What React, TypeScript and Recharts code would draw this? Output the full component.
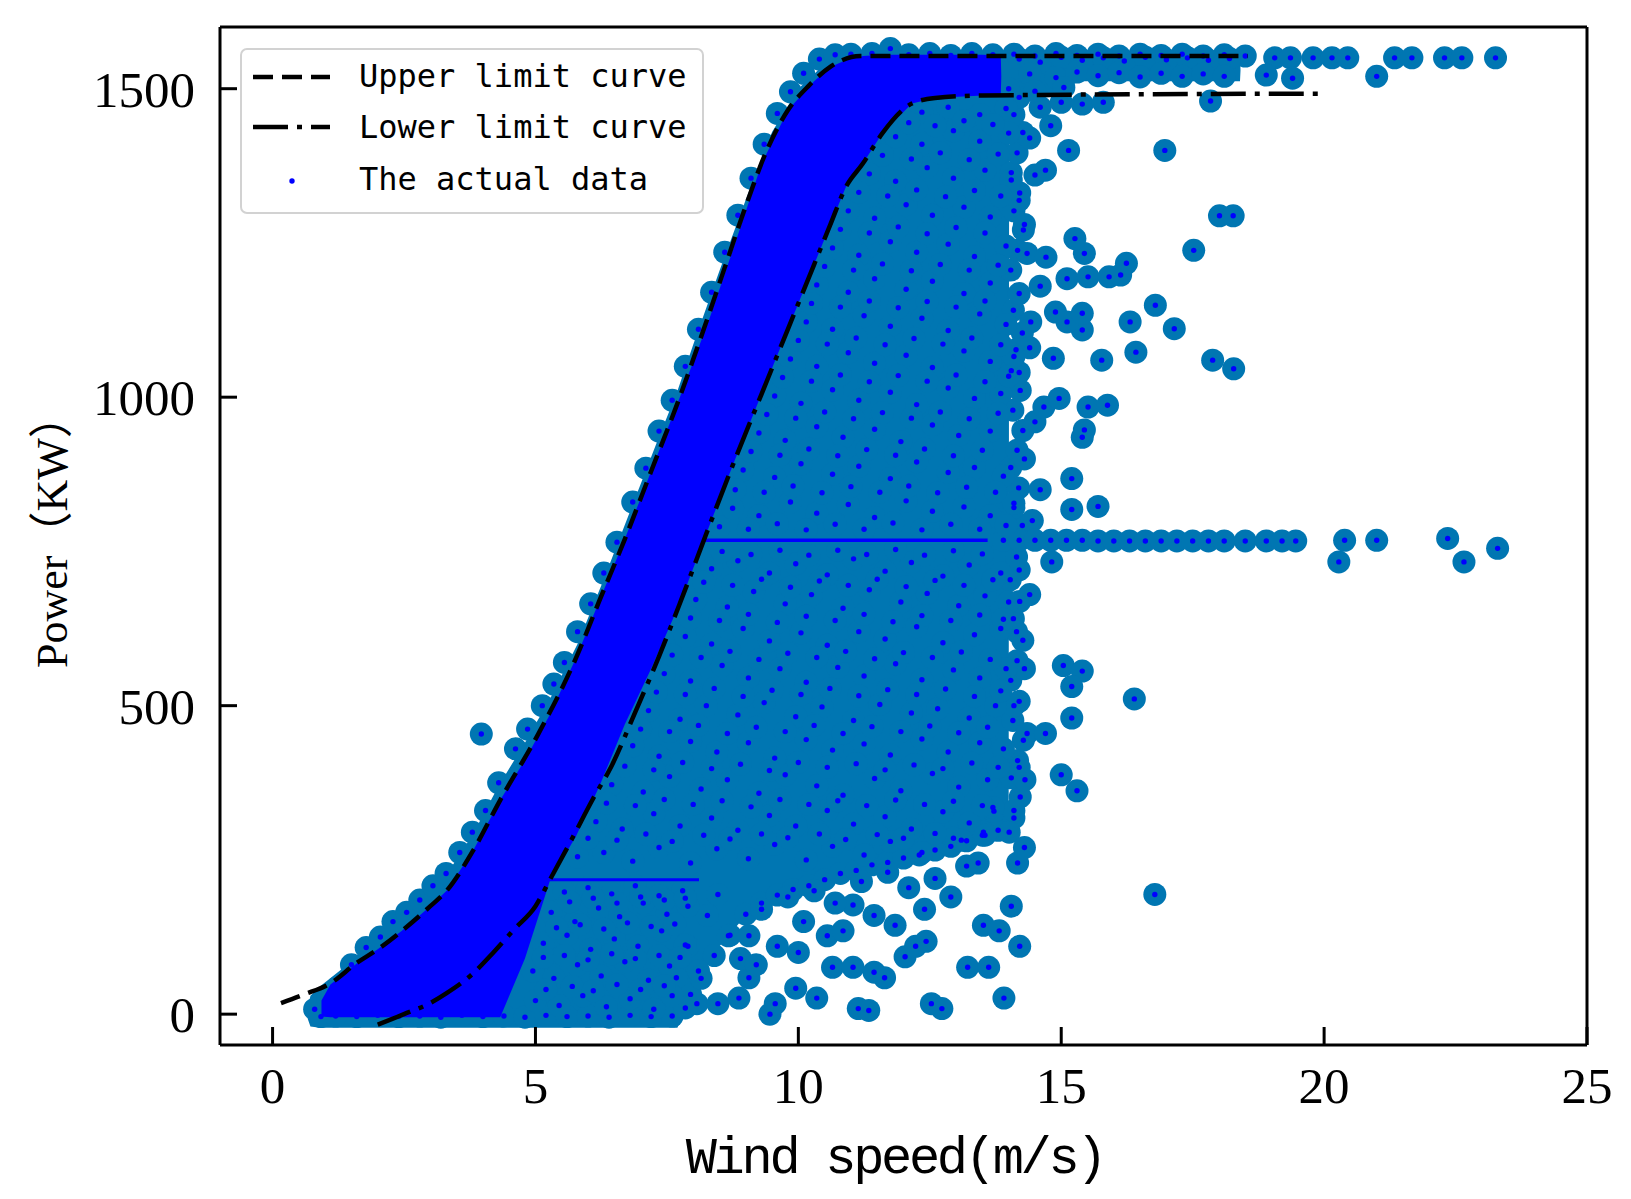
import React from 'react';
import { ComposedChart, XAxis, YAxis, Line, Area, Scatter, ReferenceLine, Legend, Label } from 'recharts';

const TEAL = '#0076b2';
const BLUE = '#0000ff';

const xTicks = [0, 5, 10, 15, 20, 25];
const yTicks = [0, 500, 1000, 1500];

// Upper limit curve (dashed): [wind speed, power]
const upperLimitCurve: number[][] = [
  [0.16, 18], [0.6, 32], [1.1, 50], [1.6, 83], [2.0, 105], [2.46, 135], [3.0, 175], [3.31, 200],
  [3.82, 266], [4.33, 347], [5.06, 455], [5.78, 579], [6.22, 671], [6.7, 770], [7.2, 880], [7.7, 990],
  [8.2, 1110], [8.6, 1210], [8.96, 1300], [9.4, 1400], [9.8, 1465], [10.2, 1505], [10.6, 1535],
  [11.18, 1553], [18.55, 1553],
];

// Lower limit curve (dash-dot)
const lowerLimitCurve: number[][] = [
  [2.0, -17], [2.5, 0], [3.0, 18], [3.31, 34], [3.8, 65], [4.2, 100], [4.6, 138], [5.0, 175], [5.27, 217],
  [5.7, 285], [6.1, 350], [6.44, 401], [6.9, 490], [7.35, 580], [7.77, 671], [8.3, 790], [8.8, 900],
  [9.3, 1005], [9.8, 1110], [10.3, 1215], [10.61, 1280], [10.9, 1340], [11.23, 1379], [11.6, 1428],
  [12.16, 1476], [12.6, 1485], [13.5, 1489], [19.9, 1492],
];

// Outline of the dense part of the data cloud (teal): x, lower edge, upper edge
const cloudX = [0.67, 0.72, 0.9, 1.3, 1.8, 2.3, 2.8, 3.3, 3.8, 4.3, 4.8, 5.3, 5.8, 6.3, 6.8, 7.3, 7.7, 8.0, 8.5, 9.0, 9.5, 10.0, 10.5, 11.0, 11.5, 12.2, 13.0, 13.7, 14.0, 14.01, 15.0, 15.3, 18.4, 18.41];
const cloudLow = [-8, -20, -22, -22, -22, -22, -22, -22, -22, -22, -22, -22, -22, -22, -22, -22, -22, 40, 110, 160, 190, 200, 215, 230, 240, 250, 270, 290, 305, 1480, 1488, 1512, 1512, 1530];
const cloudHigh = [8, 30, 45, 72, 110, 145, 180, 225, 290, 370, 440, 515, 600, 705, 815, 925, 1010, 1085, 1205, 1320, 1430, 1500, 1540, 1560, 1562, 1562, 1562, 1562, 1562, 1562, 1562, 1560, 1560, 1530];

// Saturated blue band where the actual data points pile up
const bandX = [0.93, 1.1, 1.6, 2.0, 2.46, 3.0, 3.31, 3.82, 4.33, 4.8, 5.27, 5.78, 6.22, 6.7, 7.2, 7.77, 8.3, 8.8, 9.3, 9.8, 10.3, 10.61, 10.9, 11.23, 11.6, 12.16, 12.6, 13.5, 13.85, 13.86];
const bandLow = [-4, -5, -5, -5, -5, -5, -5, -5, -5, 90, 215, 290, 370, 470, 560, 671, 790, 900, 1005, 1110, 1215, 1280, 1340, 1379, 1428, 1476, 1485, 1489, 1490, 1520];
const bandHigh = [22, 48, 82, 105, 135, 175, 200, 266, 347, 412, 485, 579, 671, 770, 880, 1005, 1125, 1250, 1378, 1465, 1512, 1535, 1546, 1553, 1555, 1555, 1555, 1555, 1554, 1520];

// Dense horizontal rows of data
const row770: number[][] = [[8.21, 768], [13.6, 768]];
const row222: number[][] = [[5.27, 218], [8.11, 218]];

// Individual data points
const edgePoints: number[][] = [
  [0.8, 8], [0.92, -4], [1.05, 25], [1.26, 45], [1.5, 80], [1.78, 108], [2.05, 125], [2.29, 150], [2.55, 165],
  [2.8, 185], [3.05, 208], [3.3, 228], [3.56, 262], [3.8, 295], [3.97, 454], [4.05, 330], [4.3, 375], [4.62, 430],
  [4.85, 462], [5.13, 500], [5.35, 535], [5.55, 570], [5.8, 620], [6.05, 665], [6.3, 715], [6.55, 765], [6.85, 830],
  [7.1, 885], [7.35, 945], [7.6, 995], [7.85, 1050], [8.1, 1110], [8.35, 1170], [8.6, 1235], [8.85, 1295],
  [9.1, 1355], [9.35, 1410], [9.6, 1460], [9.85, 1495], [10.1, 1525], [10.4, 1548], [10.7, 1555], [11.0, 1556],
  [11.4, 1557], [11.75, 1565], [12.1, 1555], [12.5, 1557], [12.9, 1554], [13.3, 1557], [13.7, 1555], [14.1, 1556],
  [14.5, 1553], [14.9, 1557], [15.3, 1554], [15.7, 1556], [16.1, 1553], [16.5, 1556], [16.9, 1554], [17.3, 1556],
  [17.7, 1553], [18.1, 1555], [18.5, 1553],
];
const bottomEdgePoints: number[][] = [
  [1.2, -3], [1.6, -4], [2.0, -2], [2.4, -4], [2.8, -3], [3.2, -5], [3.6, -2], [4.0, -4], [4.4, -3], [4.8, -5],
  [5.2, -2], [5.6, -4], [6.0, -3], [6.4, -5], [6.8, -2], [7.2, -4], [7.6, -3],
];
const cloudBottomPoints: number[][] = [
  [7.85, 10], [7.95, 32], [8.15, 58], [8.4, 95], [8.7, 128], [9.0, 162], [9.3, 180], [9.6, 193], [9.9, 202],
  [10.2, 208], [10.5, 218], [10.8, 228], [11.1, 233], [11.4, 242], [11.7, 246], [12.0, 253], [12.3, 258],
  [12.6, 266], [12.9, 272], [13.2, 281], [13.5, 290], [13.8, 298],
];
const cloudRightPoints: number[][] = [
  [14.1, 318], [14.22, 352], [14.05, 383], [14.17, 411], [14.28, 444], [14.08, 476], [14.2, 507], [14.04, 541],
  [14.16, 573], [14.27, 606], [14.09, 641], [14.21, 669], [14.03, 704], [14.15, 741], [14.26, 792], [14.1, 821],
  [14.19, 853], [14.04, 886], [14.16, 914], [14.27, 946], [14.08, 979], [14.22, 1011], [14.05, 1043], [14.14, 1077],
  [14.26, 1104], [14.09, 1141], [14.2, 1168], [14.04, 1206], [14.17, 1238], [14.28, 1271], [14.1, 1302],
  [14.21, 1331], [14.05, 1364], [14.16, 1396], [14.27, 1429], [14.1, 1458], [14.2, 1486],
];
const bottomScatterPoints: number[][] = [
  [7.68, 59], [8.07, 17], [8.47, 17], [8.87, 26], [9.06, 59], [9.46, 0], [9.56, 17], [9.95, 42], [10.35, 26],
  [10.55, 127], [10.65, 76], [10.85, 135], [11.04, 76], [11.14, 9], [11.34, 6], [11.44, 68], [11.64, 59],
  [11.84, 144], [12.03, 93], [12.23, 110], [12.43, 118], [12.53, 17], [12.73, 9], [13.22, 76], [13.52, 144],
  [13.62, 76], [13.82, 135], [13.91, 26], [14.21, 110], [8.27, 160], [8.47, 194], [8.67, 127], [9.06, 127],
  [11.44, 160], [11.04, 177], [13.42, 245], [13.52, 295], [13.72, 329], [14.01, 295], [14.17, 245], [7.9, 110],
  [8.1, 70], [8.9, 90], [9.3, 170], [9.6, 110], [9.8, 190], [10.1, 150], [10.3, 200], [10.7, 180], [11.2, 215],
  [9.2, 80], [10.0, 100], [11.7, 230], [12.1, 205], [12.6, 220], [12.9, 190], [13.2, 240], [12.4, 170],
];
const rightScatterPoints: number[][] = [
  [14.1, 330], [14.2, 400], [14.31, 380], [14.35, 455], [14.7, 455], [15.0, 388], [15.3, 362], [14.1, 500],
  [14.3, 560], [15.2, 480], [15.04, 565], [15.4, 556], [15.2, 531], [16.39, 511], [14.15, 620], [14.4, 680],
  [14.2, 720], [14.82, 733], [14.45, 800], [15.2, 818], [15.7, 823], [14.6, 850], [15.2, 868], [14.3, 900],
  [15.4, 935], [15.44, 947], [14.5, 960], [14.67, 984], [15.51, 984], [15.88, 987], [14.96, 998], [14.2, 1040],
  [14.85, 1063], [15.77, 1060], [16.42, 1073], [14.4, 1080], [15.4, 1109], [16.31, 1122], [17.15, 1111],
  [14.42, 1122], [15.11, 1122], [15.4, 1136], [14.89, 1138], [16.79, 1149], [14.6, 1180], [15.11, 1192],
  [15.51, 1195], [15.91, 1195], [16.13, 1198], [16.24, 1217], [14.35, 1233], [14.71, 1227], [15.44, 1233],
  [15.26, 1257], [17.52, 1238], [14.3, 1280], [18.01, 1294], [18.27, 1294], [14.2, 1319], [14.5, 1360],
  [14.7, 1368], [15.14, 1400], [16.97, 1400], [14.4, 1420], [14.8, 1440], [14.6, 1470], [15.0, 1478],
  [15.4, 1475], [15.8, 1478], [17.84, 1480], [17.88, 1060], [18.28, 1046], [16.78, 194], [14.05, 175], [14.3, 270],
];
const row770Points: number[][] = [
  [13.9, 768], [14.2, 768], [14.5, 768], [14.8, 768], [15.1, 768], [15.4, 768], [15.7, 767], [16.0, 767],
  [16.3, 767], [16.6, 767], [16.9, 767], [17.2, 767], [17.5, 767], [17.8, 767], [18.1, 767], [18.5, 767],
  [18.9, 767], [19.2, 767], [19.46, 767], [20.39, 768], [21.0, 768], [22.35, 771], [20.28, 733], [22.66, 733],
  [23.3, 755],
];
const topRightPoints: number[][] = [
  [19.06, 1550], [19.36, 1550], [19.79, 1550], [20.15, 1550], [20.45, 1550], [21.0, 1520], [21.34, 1550],
  [21.67, 1550], [22.29, 1550], [22.62, 1550], [23.26, 1550], [18.9, 1522], [19.4, 1517],
];
const topBandPoints: number[][] = [
  [14.2, 1548], [14.6, 1543], [15.0, 1551], [15.4, 1546], [15.8, 1550], [16.2, 1545], [16.6, 1551], [17.0, 1547],
  [17.4, 1550], [17.8, 1546], [18.2, 1549], [14.4, 1524], [14.9, 1518], [15.3, 1527], [15.7, 1521], [16.1, 1526],
  [16.5, 1519], [16.9, 1525], [17.3, 1520], [17.7, 1524], [18.1, 1520], [14.0, 1500], [14.5, 1496], [15.05, 1502],
];
const interiorPoints: number[][] = [
  [5.0, 22], [5.45, 14], [5.9, 30], [6.35, 12], [6.8, 25], [7.25, 8], [7.6, 30],
  [4.95, 70], [5.35, 58], [5.8, 80], [6.25, 62], [6.7, 85], [7.15, 55], [7.55, 78],
  [5.15, 115], [5.6, 128], [6.05, 105], [6.5, 122], [6.95, 110], [7.4, 135], [7.85, 112],
  [5.3, 165], [5.75, 150], [6.2, 172], [6.6, 158], [7.05, 180], [7.5, 162], [7.9, 175],
  [5.55, 198], [6.0, 205], [6.45, 195], [6.9, 208], [7.35, 192], [7.8, 200],
  [5.8, 255], [6.3, 262], [6.85, 248], [7.35, 270], [7.95, 245], [8.45, 268], [9.05, 252], [9.55, 275], [10.15, 250], [10.65, 272], [11.25, 258], [11.75, 280], [12.35, 262], [12.95, 285],
  [6.15, 312], [6.65, 300], [7.25, 325], [7.75, 305], [8.35, 318], [8.85, 298], [9.45, 322], [9.95, 305], [10.55, 330], [11.05, 308], [11.65, 320], [12.15, 300], [12.75, 328], [13.25, 310], [13.7, 335],
  [6.45, 372], [7.05, 360], [7.55, 385], [8.15, 365], [8.65, 380], [9.25, 358], [9.75, 388], [10.35, 370], [10.85, 355], [11.45, 382], [11.95, 362], [12.55, 390], [13.05, 368], [13.6, 380],
  [6.85, 435], [7.35, 418], [7.95, 442], [8.45, 425], [9.05, 440], [9.55, 415], [10.15, 445], [10.65, 428], [11.25, 438], [11.75, 420], [12.35, 446], [12.85, 425], [13.45, 440], [13.9, 430],
  [7.15, 492], [7.75, 478], [8.25, 500], [8.85, 485], [9.35, 505], [9.95, 482], [10.45, 498], [11.05, 476], [11.55, 502], [12.15, 488], [12.65, 495], [13.25, 480], [13.75, 500],
  [7.45, 552], [7.95, 540], [8.55, 565], [9.05, 545], [9.65, 560], [10.15, 538], [10.75, 562], [11.25, 548], [11.85, 568], [12.35, 542], [12.95, 558], [13.45, 545], [13.95, 560],
  [7.85, 612], [8.35, 600], [8.95, 625], [9.45, 605], [10.05, 618], [10.55, 598], [11.15, 620], [11.65, 608], [12.25, 628], [12.75, 602], [13.35, 615], [13.85, 625],
  [8.05, 672], [8.65, 660], [9.15, 685], [9.75, 665], [10.25, 680], [10.85, 658], [11.35, 688], [11.95, 668], [12.45, 682], [13.05, 662], [13.55, 678], [14.0, 668],
  [8.35, 722], [8.85, 735], [9.45, 715], [9.95, 730], [10.55, 712], [11.05, 738], [11.65, 718], [12.15, 732], [12.75, 710], [13.25, 728], [13.85, 715],
  [8.75, 820], [9.25, 808], [9.85, 830], [10.35, 812], [10.95, 826], [11.45, 805], [12.05, 832], [12.55, 815], [13.15, 822], [13.65, 808], [14.1, 828],
  [8.95, 882], [9.55, 870], [10.05, 892], [10.65, 875], [11.15, 888], [11.75, 868], [12.25, 895], [12.85, 878], [13.35, 886], [13.9, 872],
  [9.25, 942], [9.75, 930], [10.35, 952], [10.85, 935], [11.45, 948], [11.95, 928], [12.55, 955], [13.05, 938], [13.65, 945],
  [9.55, 1002], [10.05, 990], [10.65, 1012], [11.15, 995], [11.75, 1008], [12.25, 988], [12.85, 1015], [13.35, 998], [13.85, 1006],
  [9.85, 1062], [10.35, 1050], [10.95, 1072], [11.45, 1055], [12.05, 1068], [12.55, 1048], [13.15, 1075], [13.65, 1058], [14.1, 1066],
  [10.15, 1122], [10.65, 1110], [11.25, 1132], [11.75, 1115], [12.35, 1128], [12.85, 1108], [13.45, 1135], [13.95, 1118],
  [10.35, 1182], [10.95, 1170], [11.45, 1192], [12.05, 1175], [12.55, 1188], [13.15, 1168], [13.65, 1185],
  [10.65, 1242], [11.15, 1230], [11.75, 1252], [12.25, 1235], [12.85, 1248], [13.35, 1228], [13.95, 1245],
  [10.95, 1302], [11.45, 1290], [12.05, 1312], [12.55, 1295], [13.15, 1308], [13.65, 1292],
  [11.35, 1362], [11.85, 1350], [12.45, 1372], [12.95, 1355], [13.55, 1368], [14.05, 1352],
  [11.85, 1422], [12.35, 1410], [12.95, 1432], [13.45, 1415], [14.0, 1428],
  [12.35, 1462], [12.85, 1470], [13.45, 1458], [13.95, 1468],
];
const interiorPointsB: number[][] = [
  [5.2, 40], [5.7, 45], [6.1, 38], [6.55, 48], [7.0, 40], [7.45, 46],
  [5.15, 92], [5.55, 95], [6.0, 88], [6.45, 98], [6.9, 90], [7.35, 95], [7.75, 92],
  [5.4, 140], [5.85, 145], [6.3, 138], [6.75, 148], [7.2, 142], [7.65, 146],
  [5.65, 182], [6.1, 188], [6.55, 180], [7.0, 190], [7.45, 185], [7.85, 188],
  [6.0, 285], [6.55, 282], [7.1, 292], [7.6, 280], [8.2, 290], [8.7, 284], [9.3, 292], [9.8, 286], [10.4, 292], [10.9, 283], [11.5, 291], [12.0, 285], [12.6, 293], [13.1, 282], [13.55, 290],
  [6.35, 342], [6.9, 338], [7.45, 348], [8.0, 340], [8.55, 346], [9.1, 336], [9.65, 348], [10.2, 340], [10.75, 346], [11.3, 338], [11.85, 347], [12.4, 340], [12.95, 345], [13.5, 338],
  [6.7, 402], [7.25, 396], [7.8, 408], [8.35, 398], [8.9, 405], [9.45, 395], [10.0, 408], [10.55, 400], [11.1, 406], [11.65, 396], [12.2, 404], [12.75, 398], [13.3, 407], [13.8, 400],
  [7.0, 462], [7.55, 458], [8.1, 468], [8.65, 455], [9.2, 465], [9.75, 458], [10.3, 468], [10.85, 455], [11.4, 466], [11.95, 458], [12.5, 467], [13.05, 456], [13.6, 465],
  [7.3, 522], [7.85, 518], [8.4, 528], [8.95, 515], [9.5, 525], [10.05, 518], [10.6, 528], [11.15, 516], [11.7, 526], [12.25, 518], [12.8, 527], [13.35, 515], [13.85, 524],
  [7.6, 582], [8.15, 578], [8.7, 588], [9.25, 575], [9.8, 585], [10.35, 578], [10.9, 588], [11.45, 576], [12.0, 586], [12.55, 578], [13.1, 587], [13.65, 575],
  [7.95, 642], [8.5, 638], [9.05, 648], [9.6, 635], [10.15, 645], [10.7, 638], [11.25, 648], [11.8, 636], [12.35, 646], [12.9, 638], [13.45, 647], [13.9, 640],
  [8.2, 700], [8.75, 695], [9.3, 705], [9.85, 692], [10.4, 702], [10.95, 695], [11.5, 705], [12.05, 693], [12.6, 703], [13.15, 695], [13.7, 704],
  [8.55, 750], [9.1, 745], [9.65, 752], [10.2, 744], [10.75, 752], [11.3, 745], [11.85, 753], [12.4, 744], [12.95, 751], [13.5, 746],
  [8.5, 790], [9.05, 786], [9.6, 795], [10.15, 785], [10.7, 794], [11.25, 786], [11.8, 796], [12.35, 785], [12.9, 794], [13.45, 786], [13.95, 792],
  [8.8, 850], [9.35, 846], [9.9, 856], [10.45, 845], [11.0, 855], [11.55, 846], [12.1, 856], [12.65, 845], [13.2, 854], [13.75, 846],
  [9.1, 912], [9.65, 906], [10.2, 916], [10.75, 905], [11.3, 915], [11.85, 906], [12.4, 916], [12.95, 905], [13.5, 914],
  [9.4, 972], [9.95, 966], [10.5, 976], [11.05, 965], [11.6, 975], [12.15, 966], [12.7, 976], [13.25, 965], [13.8, 974],
  [9.7, 1032], [10.25, 1026], [10.8, 1036], [11.35, 1025], [11.9, 1035], [12.45, 1026], [13.0, 1036], [13.55, 1025], [14.0, 1034],
  [10.0, 1092], [10.55, 1086], [11.1, 1096], [11.65, 1085], [12.2, 1095], [12.75, 1086], [13.3, 1096], [13.85, 1085],
  [10.25, 1152], [10.8, 1146], [11.35, 1156], [11.9, 1145], [12.45, 1155], [13.0, 1146], [13.55, 1156],
  [10.5, 1212], [11.05, 1206], [11.6, 1216], [12.15, 1205], [12.7, 1215], [13.25, 1206], [13.8, 1214],
  [10.8, 1272], [11.35, 1266], [11.9, 1276], [12.45, 1265], [13.0, 1275], [13.55, 1266],
  [11.15, 1332], [11.7, 1326], [12.25, 1336], [12.8, 1325], [13.35, 1335], [13.85, 1326],
  [11.6, 1392], [12.15, 1386], [12.7, 1396], [13.25, 1385], [13.8, 1394],
  [12.1, 1445], [12.6, 1440], [13.15, 1448], [13.7, 1442],
];

const toXY = (arr: number[][]) => arr.map(([x, y]) => ({ x, y }));
const upperData = toXY(upperLimitCurve);
const lowerData = toXY(lowerLimitCurve);
const row770Data = toXY(row770);
const row222Data = toXY(row222);
const cloudData = cloudX.map((x, i) => ({ x, range: [cloudLow[i], cloudHigh[i]] }));
const bandData = bandX.map((x, i) => ({ x, range: [bandLow[i], bandHigh[i]] }));
const actualData = toXY([
  ...edgePoints, ...bottomEdgePoints, ...cloudBottomPoints, ...cloudRightPoints, ...bottomScatterPoints,
  ...rightScatterPoints, ...row770Points, ...topRightPoints, ...topBandPoints, ...interiorPoints, ...interiorPointsB,
]);

const tickStyle = { fill: '#000', fontSize: 51, fontFamily: 'Liberation Serif, Times New Roman, serif' };

const TealCircle = (p: any) => <circle cx={p.cx} cy={p.cy} r={11.5} fill={TEAL} />;
const BlueDot = (p: any) => <circle cx={p.cx} cy={p.cy} r={2.7} fill={BLUE} />;

const LegendBox = () => (
  <div style={{ position: 'relative', width: 464, height: 166, boxSizing: 'border-box', border: '2px solid #d2d2d2', borderRadius: 7, background: 'rgba(255,255,255,0.85)' }}>
    <svg width={464} height={166} style={{ position: 'absolute', left: -2, top: -2 }}>
      <g fontFamily="DejaVu Sans Mono, monospace" fontSize={32} fill="#000">
        <line x1={13} y1={29} x2={90} y2={29} stroke="#000" strokeWidth={4.5} strokeDasharray="20 9" />
        <text x={119} y={39}>Upper limit curve</text>
        <line x1={13} y1={79} x2={90} y2={79} stroke="#000" strokeWidth={4.5} strokeDasharray="35 9 5 9" />
        <text x={119} y={90}>Lower limit curve</text>
        <circle cx={52} cy={133} r={2.7} fill={BLUE} />
        <text x={119} y={142}>The actual data</text>
      </g>
    </svg>
  </div>
);

export default function App() {
  return (
    <div style={{ position: 'absolute', left: 0, top: 0, width: 1631, height: 1199, background: '#fff' }}>
      <ComposedChart width={1631} height={1199} margin={{ top: 27, right: 44, bottom: 94, left: 160 }}>
        <XAxis
          type="number" dataKey="x" domain={[-1, 25]} ticks={xTicks} allowDataOverflow height={60}
          tick={tickStyle} tickSize={-18} tickMargin={40}
          axisLine={{ stroke: '#000', strokeWidth: 3 }} tickLine={{ stroke: '#000', strokeWidth: 3 }}
        >
          <Label content={() => (
            <text x={895} y={1173} textAnchor="middle" fontFamily="Liberation Mono, monospace" fontSize={52} letterSpacing={-3.3} fill="#000">Wind speed(m/s)</text>
          )} />
        </XAxis>
        <YAxis
          type="number" dataKey="y" domain={[-50, 1600]} ticks={yTicks} allowDataOverflow width={60}
          tick={tickStyle} tickSize={-17} tickMargin={42}
          axisLine={{ stroke: '#000', strokeWidth: 3 }} tickLine={{ stroke: '#000', strokeWidth: 3 }}
        >
          <Label content={() => (
            <text x={67} y={668} transform="rotate(-90, 67, 668)" textAnchor="start" fontFamily="Liberation Serif, Noto Sans CJK SC, serif" fontSize={44} fill="#000">Power（KW）</text>
          )} />
        </YAxis>
        <Area data={cloudData} dataKey="range" type="linear" fill={TEAL} fillOpacity={1} stroke="none" isAnimationActive={false} zIndex={100} legendType="none" />
        <Scatter data={actualData} dataKey="y" shape={TealCircle} isAnimationActive={false} zIndex={200} legendType="none" />
        <Area data={bandData} dataKey="range" type="linear" fill={BLUE} fillOpacity={1} stroke="none" isAnimationActive={false} zIndex={300} legendType="none" />
        <Scatter data={actualData} dataKey="y" shape={BlueDot} isAnimationActive={false} zIndex={400} name="The actual data" />
        <Line data={row770Data} dataKey="y" type="linear" stroke={BLUE} strokeWidth={3.5} dot={false} activeDot={false} isAnimationActive={false} zIndex={450} legendType="none" />
        <Line data={row222Data} dataKey="y" type="linear" stroke={BLUE} strokeWidth={3} dot={false} activeDot={false} isAnimationActive={false} zIndex={450} legendType="none" />
        <Line data={upperData} dataKey="y" type="monotone" stroke="#000" strokeWidth={4.5} strokeDasharray="20 9" dot={false} activeDot={false} isAnimationActive={false} zIndex={500} name="Upper limit curve" />
        <Line data={lowerData} dataKey="y" type="monotone" stroke="#000" strokeWidth={4.5} strokeDasharray="35 9 5 9" dot={false} activeDot={false} isAnimationActive={false} zIndex={500} name="Lower limit curve" />
        <ReferenceLine y={1600} stroke="#000" strokeWidth={3} zIndex={600} />
        <ReferenceLine x={25} stroke="#000" strokeWidth={3} zIndex={600} />
        <Legend
          layout="vertical" align="center" verticalAlign="middle" width={464} height={166}
          wrapperStyle={{ left: 240, top: 48, width: 464, height: 166, margin: 0, padding: 0 }}
          content={() => <LegendBox />}
        />
      </ComposedChart>
    </div>
  );
}
